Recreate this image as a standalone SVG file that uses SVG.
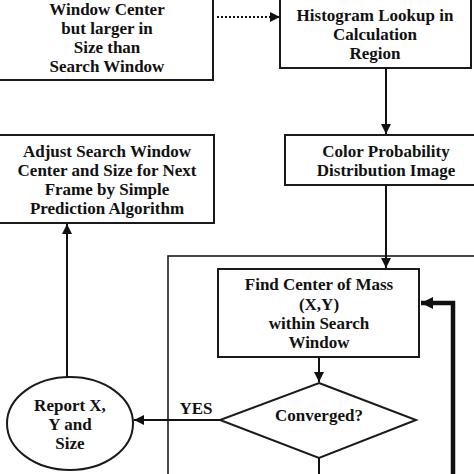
<svg xmlns="http://www.w3.org/2000/svg" width="474" height="474" viewBox="0 0 474 474">
<style>
.box{fill:#fff;stroke:#1a1a1a;stroke-width:2}
.t{font-family:"Liberation Serif","Times New Roman",serif;font-weight:bold;font-size:17px;fill:#111;text-anchor:middle}
.ln{fill:none;stroke:#111;stroke-width:2}
</style>
<defs>
<marker id="ah" markerWidth="10" markerHeight="10" viewBox="0 0 10 10" refX="10" refY="5" orient="auto" markerUnits="userSpaceOnUse">
<path d="M0,0 L10,5 L0,10 Z" fill="#111"/>
</marker>
<marker id="ahb" markerWidth="12" markerHeight="12" viewBox="0 0 12 12" refX="12" refY="6" orient="auto" markerUnits="userSpaceOnUse">
<path d="M0,0 L12,6 L0,12 Z" fill="#111"/>
</marker>
</defs>
<rect width="474" height="474" fill="#fff"/>
<g id="container">
<rect x="168" y="256" width="310" height="230" fill="none" stroke="#1a1a1a" stroke-width="1.6"/>
</g>
<g id="node-set-region">
<rect class="box" x="-3" y="-10" width="216" height="90"/>
<text class="t" x="107" y="15">Window Center</text>
<text class="t" x="107" y="34">but larger in</text>
<text class="t" x="107" y="53">Size than</text>
<text class="t" x="107" y="72">Search Window</text>
</g>
<g id="node-histogram">
<rect class="box" x="280" y="-10" width="191" height="78"/>
<text class="t" x="375" y="21">Histogram Lookup in</text>
<text class="t" x="375" y="40">Calculation</text>
<text class="t" x="375" y="59">Region</text>
</g>
<g id="node-probability">
<rect class="box" x="285" y="135" width="192" height="50"/>
<text class="t" x="386" y="157">Color Probability</text>
<text class="t" x="386" y="176">Distribution Image</text>
</g>
<g id="node-adjust">
<rect class="box" x="-3" y="135" width="217" height="88"/>
<text class="t" x="107" y="157">Adjust Search Window</text>
<text class="t" x="107" y="176">Center and Size for Next</text>
<text class="t" x="107" y="195">Frame by Simple</text>
<text class="t" x="107" y="214">Prediction Algorithm</text>
</g>
<g id="node-find">
<rect class="box" x="218" y="269" width="201" height="88"/>
<text class="t" x="319" y="290">Find Center of Mass</text>
<text class="t" x="319" y="310">(X,Y)</text>
<text class="t" x="319" y="329">within Search</text>
<text class="t" x="319" y="348">Window</text>
</g>
<g id="node-converged">
<polygon class="box" points="319,383 416,420 319,458 220,420"/>
<text class="t" x="319" y="421">Converged?</text>
</g>
<g id="node-report">
<ellipse class="box" cx="70" cy="423.5" rx="63" ry="46.5"/>
<text class="t" x="70" y="411">Report X,</text>
<text class="t" x="70" y="430">Y and</text>
<text class="t" x="70" y="449">Size</text>
</g>
<g id="connectors">
<line class="ln" x1="217" y1="17" x2="280" y2="17" stroke-dasharray="2,2" marker-end="url(#ah)"/>
<line class="ln" x1="386" y1="68" x2="386" y2="134" marker-end="url(#ah)"/>
<line class="ln" x1="386" y1="185" x2="386" y2="268" marker-end="url(#ah)"/>
<line class="ln" x1="319" y1="357" x2="319" y2="382" marker-end="url(#ah)"/>
<line class="ln" x1="319" y1="458" x2="319" y2="480"/>
<line class="ln" x1="220" y1="420" x2="134" y2="420" marker-end="url(#ah)"/>
<text class="t" x="196" y="414">YES</text>
<line class="ln" x1="67" y1="377" x2="67" y2="224" marker-end="url(#ah)"/>
<polyline points="453,480 453,303 421,303" fill="none" stroke="#111" stroke-width="4.5" marker-end="url(#ahb)"/>
</g>
</svg>
